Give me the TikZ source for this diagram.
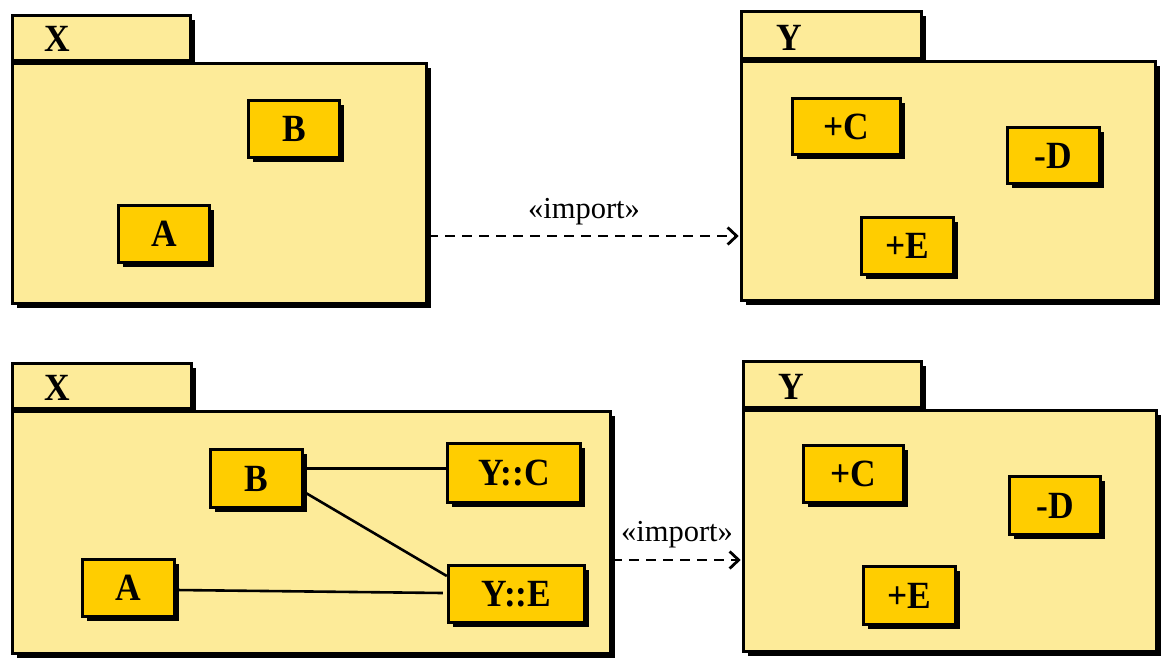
\documentclass[tikz,border=0pt]{standalone}
\usepackage{fontspec}
\setmainfont{Liberation Serif}
\newfontfamily\labfont[FakeStretch=0.92]{Liberation Serif}
\usetikzlibrary{shadows,arrows.meta}
\definecolor{pkgfill}{RGB}{253,235,153}
\definecolor{boxfill}{RGB}{255,205,0}
\tikzset{
  shad/.style={drop shadow={shadow xshift=4.2pt,shadow yshift=-4.2pt,fill=black,opacity=1}},
  pkgpart/.style={draw, line width=3.6pt, fill=pkgfill, shad, inner sep=0pt, rectangle},
  cls/.style={draw, line width=3.4pt, fill=boxfill, shad, inner sep=0pt, rectangle,
    font=\labfont\bfseries\fontsize{38.5}{42}\selectfont},
  pkgname/.style={inner sep=0pt, font=\labfont\bfseries\fontsize{38.5}{42}\selectfont},
  lnk/.style={line width=2.6pt},
  imp/.style={line width=2.6pt, dash pattern=on 10pt off 7pt, shorten >=1pt,
    -{Straight Barb[length=9pt,width=17pt,line width=2.8pt]}},
  implabel/.style={inner sep=0pt, font=\fontsize{30.5}{33}\selectfont}
}
\begin{document}
\begin{tikzpicture}[x=1pt,y=-1pt]
\useasboundingbox[fill=white] (0,0) rectangle (1173,664);

% ---------- top left package X ----------
\node[pkgpart, minimum width=178pt, minimum height=45pt] (tabX1) at (101.5,38) {};
\node[pkgpart, minimum width=414pt, minimum height=240pt] (bodyX1) at (219.5,183.5) {};
\node[pkgname] (nX1) at (57,39) {X};
\node[cls, minimum width=91pt, minimum height=57pt] (B1) at (294,129) {B};
\node[cls, minimum width=91pt, minimum height=57pt] (A1) at (164,234) {A};

% ---------- top right package Y ----------
\node[pkgpart, minimum width=180pt, minimum height=47pt] (tabY1) at (831.5,35) {};
\node[pkgpart, minimum width=414pt, minimum height=239pt] (bodyY1) at (948.5,181) {};
\node[pkgname] (nY1) at (789,38) {Y};
\node[cls, minimum width=108pt, minimum height=56pt] (C1) at (846.5,126.5) {+C};
\node[cls, minimum width=92pt, minimum height=56pt] (D1) at (1053.5,155.5) {-D};
\node[cls, minimum width=92pt, minimum height=57pt] (E1) at (907.5,246) {+E};

% ---------- top import ----------
\draw[imp] ([yshift=-52.5pt]bodyX1.east) -- ([yshift=-55pt]bodyY1.west)
  node[implabel, midway, yshift=24pt] (imp1) {«import»};

% ---------- bottom left package X ----------
\node[pkgpart, minimum width=179pt, minimum height=45pt] (tabX2) at (102,386) {};
\node[pkgpart, minimum width=598pt, minimum height=242pt] (bodyX2) at (311.5,532.5) {};
\node[pkgname] (nX2) at (57,388) {X};
\node[cls, minimum width=92pt, minimum height=58pt] (B2) at (256.5,478.5) {B};
\node[cls, minimum width=133pt, minimum height=59pt] (YC2) at (514,473) {Y::C};
\node[cls, minimum width=92pt, minimum height=57pt] (A2) at (128.5,588) {A};
\node[cls, minimum width=136pt, minimum height=57pt] (YE2) at (516.5,594) {Y::E};

\draw[lnk] ([yshift=10pt]B2.east) -- ([yshift=4.5pt]YC2.west);
\draw[lnk] ([yshift=-13.5pt]B2.east) -- ([yshift=18pt]YE2.west);
\draw[lnk] ([yshift=-2pt]A2.east) -- ([xshift=-4pt,yshift=1pt]YE2.west);

% ---------- bottom right package Y ----------
\node[pkgpart, minimum width=178pt, minimum height=46pt] (tabY2) at (832.5,384.5) {};
\node[pkgpart, minimum width=413pt, minimum height=241pt] (bodyY2) at (950,531) {};
\node[pkgname] (nY2) at (791,386.5) {Y};
\node[cls, minimum width=100pt, minimum height=57pt] (C2) at (853.5,474) {+C};
\node[cls, minimum width=91pt, minimum height=58pt] (D2) at (1055,505.5) {-D};
\node[cls, minimum width=92pt, minimum height=58pt] (E2) at (909.5,595.5) {+E};

% ---------- bottom import ----------
\draw[imp] ([yshift=-27.5pt]bodyX2.east) -- ([yshift=-29pt]bodyY2.west)
  node[implabel, midway, yshift=25pt] (imp2) {«import»};
\end{tikzpicture}
\end{document}
